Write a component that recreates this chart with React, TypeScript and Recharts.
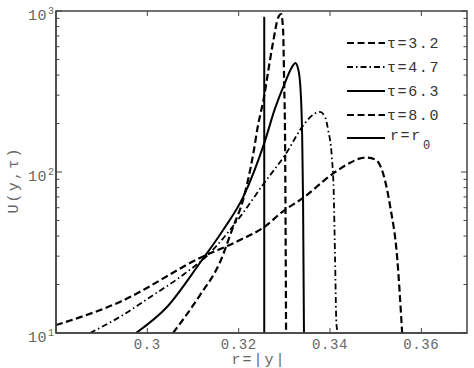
import React from 'react';
import { LineChart, Line, XAxis, YAxis, ReferenceArea } from 'recharts';

// ---- data ----
const tau32R = [0.28, 0.294, 0.3115, 0.3203, 0.3256, 0.3297, 0.3341, 0.3407, 0.3444, 0.3464, 0.3481, 0.35, 0.3516, 0.3532, 0.3547, 0.3558];
const tau32U = [11.2, 15.6, 29.2, 37.8, 45.5, 57, 69, 98, 114, 121, 123, 119, 98.6, 60.6, 29.6, 10];

const tau47R = [0.28745, 0.294, 0.3006, 0.3072, 0.3137, 0.3203, 0.3256, 0.3302, 0.3345, 0.3366, 0.3378, 0.3389, 0.3396, 0.3404, 0.3408, 0.3411, 0.3414, 0.3417];
const tau47U = [10, 12.6, 16.7, 22.3, 31.4, 52.6, 85.5, 128, 201, 230, 236, 220, 182, 124, 77, 30, 11.5, 10];

const tau63R = [0.29752, 0.3043, 0.3115, 0.3166, 0.321, 0.3256, 0.328, 0.3302, 0.3318, 0.3324, 0.333, 0.3335, 0.3339, 0.3341, 0.3343];
const tau63U = [10, 14.5, 27.2, 43.6, 70, 151, 250, 362, 455, 475, 440, 342, 170, 67, 10];

const tau80R = [0.30563, 0.31154, 0.31593, 0.31877, 0.32096, 0.32316, 0.32425, 0.32556, 0.32644, 0.32754, 0.32863, 0.32929, 0.32973, 0.32995, 0.33016, 0.33038];
const tau80U = [10, 17.2, 27.6, 45.5, 67, 128, 196, 292, 418, 641, 906, 958, 762, 372, 158, 10];

const r0R = [0.3256, 0.3256];
const r0U = [10, 920];

const xTicks = [0.3, 0.32, 0.34, 0.36];
const yTicks = [10, 20, 30, 40, 50, 60, 70, 80, 90, 100, 200, 300, 400, 500, 600, 700, 800, 900, 1000];
const yMajor = [10, 100, 1000];
const yExp = ['1', '2', '3'];

const legendLabels = ['τ=3.2', 'τ=4.7', 'τ=6.3', 'τ=8.0', 'r=r'];

const toData = (rs: number[], us: number[]) => rs.map((r, i) => ({ r, U: us[i] }));
const d32 = toData(tau32R, tau32U);
const d47 = toData(tau47R, tau47U);
const d63 = toData(tau63R, tau63U);
const d80 = toData(tau80R, tau80U);
const dr0 = toData(r0R, r0U);

// ---- layout / styles ----
const W = 474;
const H = 368;
const PL = 56;
const PR = 467;
const PT = 11;
const PB = 333;
const FONT = '"Liberation Mono", "DejaVu Sans Mono", monospace';
const AX = '#444';
const TXT = '#666';

const DASH = '7 3.5';
const DASHDOT = '6 3 1.5 3';

const styles = [
  { dash: DASH, w: 2.2 },
  { dash: DASHDOT, w: 1.8 },
  { dash: undefined, w: 2 },
  { dash: DASH, w: 2.2 },
  { dash: undefined, w: 2 },
];

const XTick = (props: any) => {
  const { x, payload } = props;
  return (
    <g>
      <line x1={x} x2={x} y1={PB} y2={PB - 5} stroke={AX} strokeWidth={1} />
      <line x1={x} x2={x} y1={PT} y2={PT + 5} stroke={AX} strokeWidth={1} />
      <text x={x} y={349} textAnchor="middle" fontFamily={FONT} fontSize={14} fill={TXT} letterSpacing={0.6}>
        {String(payload.value)}
      </text>
    </g>
  );
};

const YTick = (props: any) => {
  const { y, payload } = props;
  const v = payload.value;
  const mi = yMajor.indexOf(v);
  const len = mi >= 0 ? 6 : 3.5;
  return (
    <g>
      <line x1={PL} x2={PL + len} y1={y} y2={y} stroke={AX} strokeWidth={1} />
      <line x1={PR} x2={PR - len} y1={y} y2={y} stroke={AX} strokeWidth={1} />
      {mi >= 0 && (
        <g>
          <text x={47} y={y + 9} textAnchor="end" fontFamily={FONT} fontSize={15} fill={TXT} letterSpacing={0.5}>
            10
          </text>
          <text x={48} y={y + 3} textAnchor="start" fontFamily={FONT} fontSize={10} fill={TXT}>
            {yExp[mi]}
          </text>
        </g>
      )}
    </g>
  );
};

const LegendBox = () => {
  const rowsY = [43, 67, 91, 115, 138];
  return (
    <svg width={130} height={160} style={{ position: 'absolute', left: 340, top: 0 }}>
      {legendLabels.map((lab, i) => (
        <g key={lab}>
          <line
            x1={7}
            x2={45}
            y1={rowsY[i]}
            y2={rowsY[i]}
            stroke="#000"
            strokeWidth={styles[i].w}
            strokeDasharray={styles[i].dash}
          />
          <text
            x={i === 4 ? 50 : 47}
            y={(i === 4 ? rowsY[i] - 3 : rowsY[i]) + 5}
            fontFamily={FONT}
            fontSize={15}
            fill="#333"
            letterSpacing={1.6}
          >
            {lab}
          </text>
          {i === 4 && (
            <text x={83} y={rowsY[i] + 11} fontFamily={FONT} fontSize={12} fill="#333">
              0
            </text>
          )}
        </g>
      ))}
    </svg>
  );
};

export default function App() {
  const series = [d32, d47, d63, d80, dr0];
  return (
    <div style={{ position: 'absolute', left: 0, top: 0, width: W, height: H, background: '#fff' }}>
      <LineChart width={W} height={H} margin={{ top: PT, right: W - PR, left: 0, bottom: 5 }}>
        <XAxis
          xAxisId="b"
          dataKey="r"
          type="number"
          domain={[0.28, 0.37]}
          ticks={xTicks}
          allowDataOverflow
          height={30}
          tickLine={false}
          axisLine={{ stroke: AX, strokeWidth: 1.5 }}
          tick={XTick}
          interval={0}
        />
        <YAxis
          yAxisId="l"
          type="number"
          scale="log"
          domain={[10, 1000]}
          ticks={yTicks}
          allowDataOverflow
          width={PL}
          tickLine={false}
          axisLine={{ stroke: AX, strokeWidth: 1.5 }}
          tick={YTick}
          interval={0}
        />
        <ReferenceArea
          xAxisId="b"
          yAxisId="l"
          x1={0.28}
          x2={0.37}
          y1={10}
          y2={1000}
          fill="none"
          fillOpacity={0}
          stroke={AX}
          strokeWidth={1.5}
        />
        {series.map((d, i) => (
          <Line
            key={i}
            xAxisId="b"
            yAxisId="l"
            data={d}
            dataKey="U"
            type={i === 4 ? 'linear' : 'monotone'}
            stroke="#000"
            strokeWidth={styles[i].w}
            strokeDasharray={styles[i].dash}
            dot={false}
            activeDot={false}
            isAnimationActive={false}
          />
        ))}
      </LineChart>
      <div
        style={{
          position: 'absolute',
          left: 14,
          top: 180,
          transform: 'translate(-50%, -50%) rotate(-90deg)',
          fontFamily: FONT,
          fontSize: 15,
          lineHeight: '15px',
          color: TXT,
          letterSpacing: 2.2,
          whiteSpace: 'nowrap',
        }}
      >
        U(y,τ)
      </div>
      <div
        style={{
          position: 'absolute',
          left: 259,
          top: 361,
          transform: 'translate(-50%, -50%)',
          fontFamily: FONT,
          fontSize: 15,
          lineHeight: '14px',
          color: TXT,
          letterSpacing: 2,
          whiteSpace: 'nowrap',
        }}
      >
        r=|y|
      </div>
      <LegendBox />
    </div>
  );
}
